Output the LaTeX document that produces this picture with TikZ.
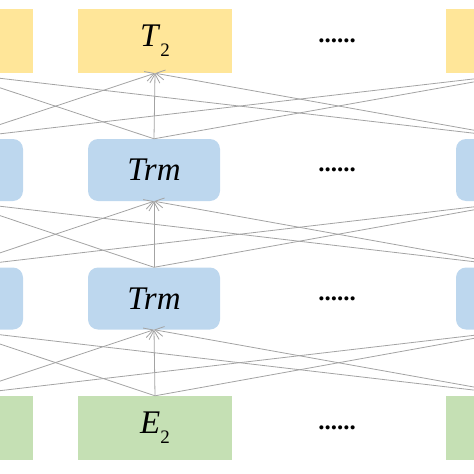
\documentclass[tikz,border=0pt]{standalone}
\usepackage{fontspec}
\setmainfont{Liberation Serif}
\usetikzlibrary{arrows.meta}
\definecolor{tokyellow}{HTML}{FFE699}
\definecolor{trmblue}{HTML}{BDD7EE}
\definecolor{embgreen}{HTML}{C5E0B4}
\definecolor{wiregray}{HTML}{A3A3A3}
\newcommand{\subtok}[2]{\textit{#1}\raisebox{-0.3em}{\fontsize{19}{19}\selectfont #2}}

\begin{document}
\begin{tikzpicture}[
    x=1pt, y=-1pt,
    outbox/.style={fill=tokyellow, minimum width=154pt, minimum height=64pt, inner sep=0pt, font=\fontsize{33}{33}\selectfont},
    embbox/.style={outbox, fill=embgreen},
    trmbox/.style={fill=trmblue, rounded corners=10pt, minimum width=132pt, minimum height=62pt, inner sep=0pt, font=\fontsize{33}{33}\selectfont\itshape},
    wire/.style={draw=wiregray, line width=0.8pt, -{Straight Barb[length=9pt,width=10pt]}},
    dots/.style={font=\fontsize{25}{25}\selectfont\bfseries, anchor=base}
    ]
    \clip (0,0) rectangle (474,474);
    % output row
    \node [outbox] (t1) at (-44,41) {\subtok{T}{1}};
    \node [outbox] (t2) at (155,41) {\subtok{T}{2}};
    \node [outbox] (tn) at (523,41) {\subtok{T}{N}};
    \node [dots] (dt) at (337,42.5) {......};
    % upper transformer layer
    \node [trmbox] (trma1) at (-43,170) {Trm};
    \node [trmbox] (trma2) at (154,170) {Trm};
    \node [trmbox] (trman) at (522,170) {Trm};
    \node [dots] (da) at (337,171.5) {......};
    % lower transformer layer
    \node [trmbox] (trmb1) at (-43,298.5) {Trm};
    \node [trmbox] (trmb2) at (154,298.5) {Trm};
    \node [trmbox] (trmbn) at (522,298.5) {Trm};
    \node [dots] (db) at (337,300) {......};
    % embeddings
    \node [embbox] (e1) at (-44,428) {\subtok{E}{1}};
    \node [embbox] (e2) at (155,428) {\subtok{E}{2}};
    \node [embbox] (en) at (523,428) {\subtok{E}{N}};
    \node [dots] (de) at (337,429.5) {......};
    % every box feeds every box above it
    \foreach \lo/\hi in {e/trmb, trmb/trma, trma/t}
        \foreach \i in {1,2,n}
            \foreach \j in {1,2,n}
                \draw [wire] (\lo\i.north) -- (\hi\j.south);
\end{tikzpicture}
\end{document}
